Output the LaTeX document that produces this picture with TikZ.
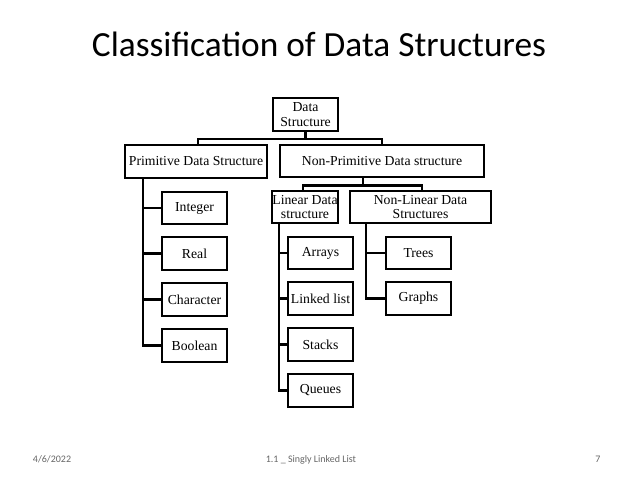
\documentclass[tikz,border=0pt]{standalone}
\usepackage{fontspec}
\setmainfont{Liberation Serif}
\newfontfamily\calfnt{Carlito}
\begin{document}
\begin{tikzpicture}[x=0.75pt,y=-0.75pt,
 bx/.style={draw,line width=2.2pt,inner sep=0pt,align=center,font=\fontsize{10.3}{11}\selectfont},
 ln/.style={line width=2.2pt},
 ft/.style={anchor=base,font=\calfnt\fontsize{7.5}{9}\selectfont,text=black!60}]
\useasboundingbox (0,0) rectangle (638,478);
\newcommand\bb[6]{\node[bx,minimum width={(#4-#2)*0.75pt},minimum height={(#5-#3)*0.75pt}] (#1) at ({(#2+#4)/2},{(#3+#5)/2}) {#6};}
\node[font=\calfnt\fontsize{26.5}{30}\selectfont] (title) at (319,44) {Classification of Data Structures};
\bb{ds}{273}{98}{338}{131}{Data\\Structure}
\bb{pr}{125}{145}{267}{178}{Primitive Data Structure}
\bb{np}{280}{145}{484}{177}{Non-Primitive Data structure}
\bb{li}{272}{191}{338}{223}{Linear Data\\structure}
\bb{nl}{350}{191}{491}{223}{Non-Linear Data\\Structures}
\bb{int}{162}{192}{227}{224}{Integer}
\bb{rea}{162}{237}{227}{270}{Real}
\bb{cha}{162}{283}{227}{316}{Character}
\bb{boo}{162}{329}{227}{362}{Boolean}
\bb{arr}{288}{237}{353}{269}{Arrays}
\bb{lnk}{288}{282}{353}{315}{Linked list}
\bb{sta}{288}{328}{353}{361}{Stacks}
\bb{que}{288}{374}{353}{407}{Queues}
\bb{tre}{386}{237}{451}{269}{Trees}
\bb{gra}{386}{282}{451}{315}{Graphs}
\draw[ln] (ds.south) -- ++(0,6.5) coordinate (j1);
\draw[ln] (pr.north -| 198,0) |- (j1) -| (np.north -| 382,0);
\draw[ln] (np.south -| 363,0) -- ++(0,7) coordinate (j2);
\draw[ln] (li.north -| 303,0) |- (j2) -| (nl.north -| 422,0);
\draw[ln] (pr.south -| 143,0) |- (boo.west);
\foreach \n in {int,rea,cha} \draw[ln] (\n.west) -- (\n.west -| 143,0);
\draw[ln] (li.south -| 279,0) |- (que.west);
\foreach \n in {arr,lnk,sta} \draw[ln] (\n.west) -- (\n.west -| 279,0);
\draw[ln] (nl.south -| 366,0) |- (gra.west);
\draw[ln] (tre.west) -- (tre.west -| 366,0);
\node[ft] (d) at (52,462) {4/6/2022};
\node[ft] (s) at (311,462) {1.1 \_ Singly Linked List};
\node[ft] (p) at (598,462) {7};
\end{tikzpicture}
\end{document}
